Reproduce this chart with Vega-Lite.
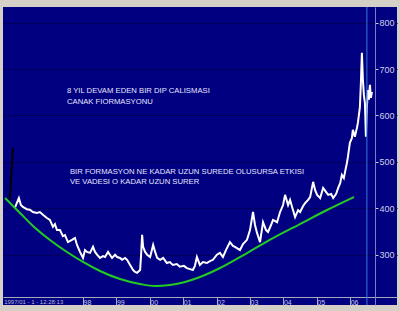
{
  "$schema": "https://vega.github.io/schema/vega-lite/v6.json",
  "width": 394,
  "height": 298,
  "autosize": {"type": "none"},
  "padding": {"left": 3, "top": 7, "right": 3, "bottom": 6},
  "background": "#d4d0c8",
  "config": {
    "view": {"fill": "#000080", "stroke": null},
    "font": "Liberation Sans",
    "axisX": {"grid": false, "domainColor": "#a8a8b8", "tickColor": "#a8a8b8", "tickSize": 8,
      "labelAlign": "left", "labelBaseline": "top", "labelDx": 3, "labelPadding": -7,
      "labelColor": "#c8c8e8", "labelFontSize": 7, "labelFont": "Liberation Sans"},
    "axisY": {"grid": true, "gridColor": "#00005c", "gridWidth": 1,
      "domainColor": "#7c7cc0", "tickColor": "#c8c8e8", "tickSize": 3,
      "labelColor": "#d0d0f0", "labelFontSize": 9, "labelPadding": 1, "labelFont": "Liberation Sans"}
  },
  "datasets": {
    "price": [
      {"t":1995.96,"v":401},{"t":1996.08,"v":422},{"t":1996.14,"v":407},{"t":1996.20,"v":403},{"t":1996.32,"v":398},{"t":1996.41,"v":397},{"t":1996.50,"v":392},{"t":1996.62,"v":390},{"t":1996.71,"v":392},{"t":1996.80,"v":386},{"t":1996.92,"v":379},{"t":1997.01,"v":375},{"t":1997.10,"v":360},{"t":1997.16,"v":366},{"t":1997.22,"v":353},{"t":1997.31,"v":353},{"t":1997.40,"v":340},{"t":1997.46,"v":342},{"t":1997.55,"v":327},{"t":1997.67,"v":332},{"t":1997.76,"v":336},{"t":1997.82,"v":321},{"t":1997.91,"v":306},{"t":1998.00,"v":293},{"t":1998.06,"v":310},{"t":1998.12,"v":306},{"t":1998.21,"v":304},{"t":1998.30,"v":317},{"t":1998.36,"v":306},{"t":1998.42,"v":300},{"t":1998.51,"v":293},{"t":1998.60,"v":297},{"t":1998.66,"v":295},{"t":1998.75,"v":306},{"t":1998.87,"v":293},{"t":1998.96,"v":300},{"t":1999.02,"v":295},{"t":1999.11,"v":293},{"t":1999.17,"v":289},{"t":1999.26,"v":293},{"t":1999.32,"v":289},{"t":1999.41,"v":278},{"t":1999.50,"v":267},{"t":1999.56,"v":263},{"t":1999.62,"v":261},{"t":1999.71,"v":267},{"t":1999.74,"v":300},{"t":1999.77,"v":343},{"t":1999.80,"v":317},{"t":1999.86,"v":306},{"t":1999.92,"v":300},{"t":2000.01,"v":295},{"t":2000.10,"v":321},{"t":2000.16,"v":306},{"t":2000.22,"v":293},{"t":2000.31,"v":289},{"t":2000.40,"v":293},{"t":2000.51,"v":282},{"t":2000.60,"v":284},{"t":2000.69,"v":278},{"t":2000.81,"v":280},{"t":2000.90,"v":274},{"t":2001.02,"v":276},{"t":2001.11,"v":271},{"t":2001.20,"v":269},{"t":2001.29,"v":267},{"t":2001.35,"v":276},{"t":2001.41,"v":295},{"t":2001.50,"v":278},{"t":2001.59,"v":284},{"t":2001.71,"v":282},{"t":2001.80,"v":286},{"t":2001.89,"v":289},{"t":2002.01,"v":300},{"t":2002.10,"v":304},{"t":2002.19,"v":295},{"t":2002.28,"v":310},{"t":2002.40,"v":327},{"t":2002.49,"v":319},{"t":2002.55,"v":317},{"t":2002.70,"v":310},{"t":2002.79,"v":323},{"t":2002.91,"v":332},{"t":2003.00,"v":353},{"t":2003.09,"v":392},{"t":2003.15,"v":364},{"t":2003.21,"v":347},{"t":2003.30,"v":327},{"t":2003.39,"v":370},{"t":2003.48,"v":353},{"t":2003.54,"v":349},{"t":2003.63,"v":364},{"t":2003.69,"v":375},{"t":2003.81,"v":370},{"t":2003.90,"v":392},{"t":2003.99,"v":407},{"t":2004.05,"v":429},{"t":2004.14,"v":407},{"t":2004.20,"v":418},{"t":2004.26,"v":403},{"t":2004.35,"v":381},{"t":2004.44,"v":396},{"t":2004.50,"v":392},{"t":2004.59,"v":405},{"t":2004.65,"v":411},{"t":2004.74,"v":418},{"t":2004.80,"v":424},{"t":2004.89,"v":457},{"t":2004.95,"v":439},{"t":2005.01,"v":429},{"t":2005.10,"v":422},{"t":2005.19,"v":444},{"t":2005.28,"v":435},{"t":2005.34,"v":429},{"t":2005.43,"v":431},{"t":2005.49,"v":422},{"t":2005.58,"v":431},{"t":2005.64,"v":444},{"t":2005.70,"v":454},{"t":2005.75,"v":472},{"t":2005.81,"v":465},{"t":2005.87,"v":487},{"t":2005.90,"v":497},{"t":2005.93,"v":510},{"t":2005.99,"v":541},{"t":2006.05,"v":551},{"t":2006.08,"v":569},{"t":2006.14,"v":554},{"t":2006.20,"v":573},{"t":2006.23,"v":584},{"t":2006.29,"v":618},{"t":2006.32,"v":670},{"t":2006.35,"v":735},{"t":2006.38,"v":677},{"t":2006.41,"v":644},{"t":2006.44,"v":627},{"t":2006.47,"v":554},{"t":2006.50,"v":618},{"t":2006.53,"v":655},{"t":2006.56,"v":634},{"t":2006.59,"v":666},{"t":2006.62,"v":638},{"t":2006.65,"v":651}
    ],
    "cup": [
      {"t":1995.665,"v":422.2},{"t":1996.114,"v":389.9},{"t":1996.503,"v":361.9},{"t":1997.012,"v":331.7},{"t":1997.521,"v":305.8},{"t":1998.0,"v":284.3},{"t":1998.509,"v":264.9},{"t":1999.108,"v":247.6},{"t":1999.707,"v":236.9},{"t":2000.156,"v":232.6},{"t":2000.605,"v":234.8},{"t":2001.054,"v":241.2},{"t":2001.503,"v":251.9},{"t":2002.102,"v":271.3},{"t":2002.910,"v":303.6},{"t":2003.689,"v":335.9},{"t":2004.497,"v":366.1},{"t":2005.305,"v":396.3},{"t":2006.114,"v":424.4}
    ],
    "marker": [
      {"t":1995.90,"v":530},{"t":1995.81,"v":418}
    ],
    "notes": [
      {"t":1997.52,"v":653,"label":"8 YIL DEVAM EDEN BIR DIP CALISMASI"},
      {"t":1997.52,"v":629,"label":"CANAK FIORMASYONU"},
      {"t":1997.61,"v":478,"label":"BIR FORMASYON NE KADAR UZUN SUREDE OLUSURSA ETKISI"},
      {"t":1997.61,"v":457,"label":"VE VADESI O KADAR UZUN SURER"}
    ],
    "stamp": [
      {"t":1995.64,"v":199,"label":"1997/01 - 1 - 12:28:13"}
    ],
    "cursor": [
      {"t":2006.50}
    ]
  },
  "layer": [
    {
      "data": {"name": "price"},
      "mark": {"type": "line", "color": "#ffffff", "strokeWidth": 2, "clip": true},
      "encoding": {
        "x": {"field": "t", "type": "quantitative", "title": null,
          "scale": {"domain": [1995.605, 2007.401], "nice": false, "zero": false},
          "axis": {"orient": "bottom", "offset": -8, "values": [1998,1999,2000,2001,2002,2003,2004,2005,2006], "labelExpr": "slice(toString(datum.value), 2)"}},
        "y": {"field": "v", "type": "quantitative", "title": null,
          "scale": {"domain": [191.6, 833.8], "nice": false, "zero": false},
          "axis": {"orient": "right", "offset": -22, "values": [300,400,500,600,700,800]}}
      }
    },
    {
      "data": {"name": "cup"},
      "mark": {"type": "line", "color": "#22cc22", "strokeWidth": 2, "interpolate": "monotone"},
      "encoding": {
        "x": {"field": "t", "type": "quantitative", "title": null,
          "scale": {"domain": [1995.605, 2007.401], "nice": false, "zero": false},
          "axis": {"orient": "bottom", "offset": -8, "values": [1998,1999,2000,2001,2002,2003,2004,2005,2006], "labelExpr": "slice(toString(datum.value), 2)"}},
        "y": {"field": "v", "type": "quantitative", "title": null,
          "scale": {"domain": [191.6, 833.8], "nice": false, "zero": false},
          "axis": {"orient": "right", "offset": -22, "values": [300,400,500,600,700,800]}}
      }
    },
    {
      "data": {"name": "marker"},
      "mark": {"type": "line", "color": "#000000", "strokeWidth": 2},
      "encoding": {
        "x": {"field": "t", "type": "quantitative", "title": null,
          "scale": {"domain": [1995.605, 2007.401], "nice": false, "zero": false},
          "axis": {"orient": "bottom", "offset": -8, "values": [1998,1999,2000,2001,2002,2003,2004,2005,2006], "labelExpr": "slice(toString(datum.value), 2)"}},
        "y": {"field": "v", "type": "quantitative", "title": null,
          "scale": {"domain": [191.6, 833.8], "nice": false, "zero": false},
          "axis": {"orient": "right", "offset": -22, "values": [300,400,500,600,700,800]}}
      }
    },
    {
      "data": {"name": "cursor"},
      "mark": {"type": "rule", "color": "#3a78dc", "strokeWidth": 1},
      "encoding": {
        "x": {"field": "t", "type": "quantitative", "title": null,
          "scale": {"domain": [1995.605, 2007.401], "nice": false, "zero": false},
          "axis": {"orient": "bottom", "offset": -8, "values": [1998,1999,2000,2001,2002,2003,2004,2005,2006], "labelExpr": "slice(toString(datum.value), 2)"}}
      }
    },
    {
      "data": {"name": "notes"},
      "mark": {"type": "text", "align": "left", "baseline": "middle", "fontSize": 7.7, "color": "#e6e6ff", "font": "Liberation Sans"},
      "encoding": {
        "x": {"field": "t", "type": "quantitative", "title": null,
          "scale": {"domain": [1995.605, 2007.401], "nice": false, "zero": false},
          "axis": {"orient": "bottom", "offset": -8, "values": [1998,1999,2000,2001,2002,2003,2004,2005,2006], "labelExpr": "slice(toString(datum.value), 2)"}},
        "y": {"field": "v", "type": "quantitative", "title": null,
          "scale": {"domain": [191.6, 833.8], "nice": false, "zero": false},
          "axis": {"orient": "right", "offset": -22, "values": [300,400,500,600,700,800]}},
        "text": {"field": "label"}
      }
    },
    {
      "data": {"name": "stamp"},
      "mark": {"type": "text", "align": "left", "baseline": "middle", "fontSize": 6, "color": "#b8b8d8", "font": "Liberation Sans"},
      "encoding": {
        "x": {"field": "t", "type": "quantitative", "title": null,
          "scale": {"domain": [1995.605, 2007.401], "nice": false, "zero": false},
          "axis": {"orient": "bottom", "offset": -8, "values": [1998,1999,2000,2001,2002,2003,2004,2005,2006], "labelExpr": "slice(toString(datum.value), 2)"}},
        "y": {"field": "v", "type": "quantitative", "title": null,
          "scale": {"domain": [191.6, 833.8], "nice": false, "zero": false},
          "axis": {"orient": "right", "offset": -22, "values": [300,400,500,600,700,800]}},
        "text": {"field": "label"}
      }
    }
  ]
}
